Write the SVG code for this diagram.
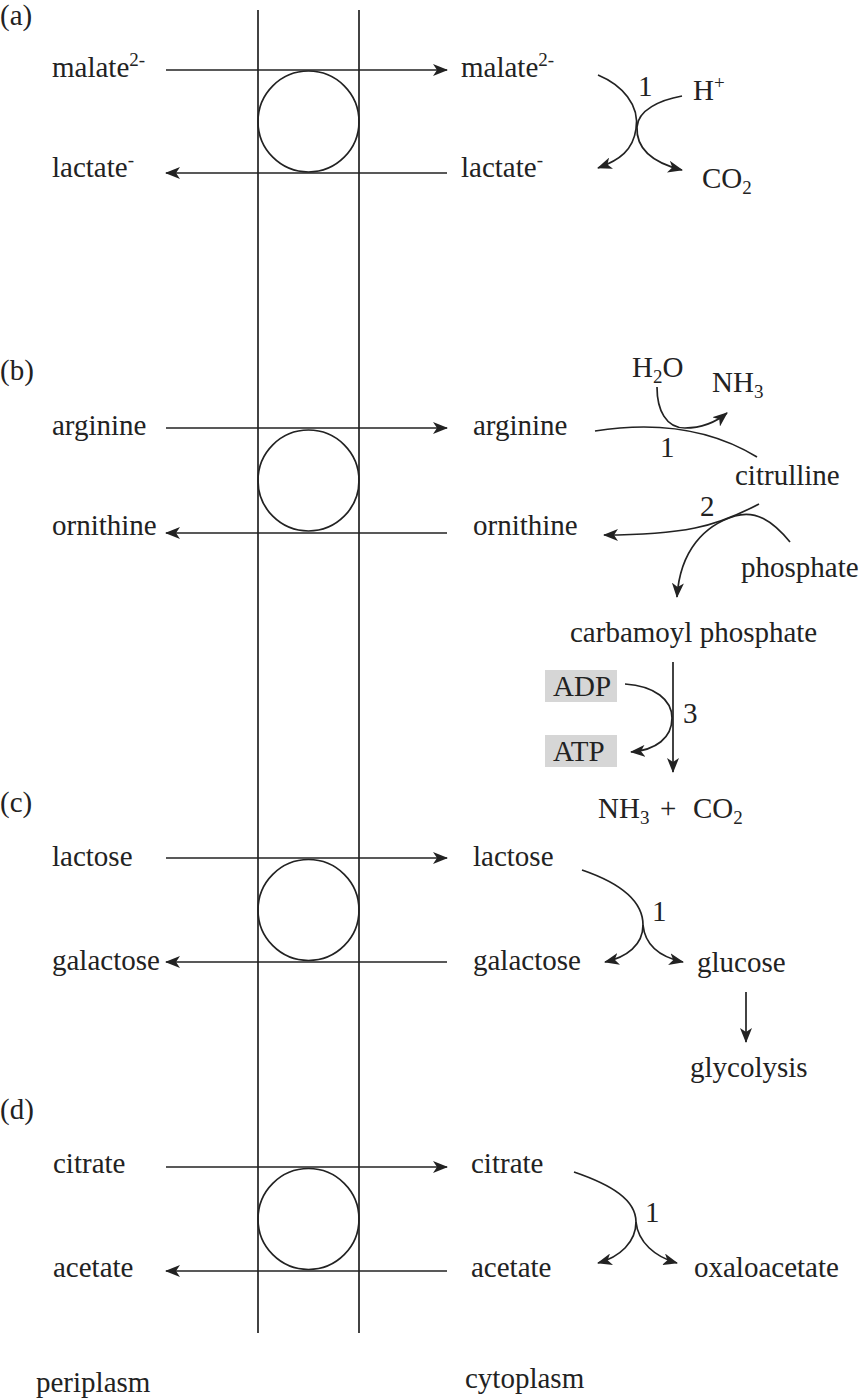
<svg xmlns="http://www.w3.org/2000/svg" width="861" height="1398" viewBox="0 0 861 1398">
<defs>
<style>
text{font-family:"Liberation Serif","Times New Roman",serif;font-size:29px;fill:#222}
.sup{font-size:19px}
.ln{fill:none;stroke:#222;stroke-width:1.7}
.ar{fill:none;stroke:#222;stroke-width:1.7;marker-end:url(#ah)}
.box{fill:#d6d6d6;stroke:none}
</style>
<marker id="ah" markerUnits="userSpaceOnUse" markerWidth="16" markerHeight="12" refX="14" refY="6" orient="auto">
<path d="M0,0 L15,6 L0,12 L4,6 z" fill="#222"/>
</marker>
</defs>
<rect width="861" height="1398" fill="#fff"/>

<g id="membrane">
<line class="ln" x1="258" y1="10" x2="258" y2="1333"/>
<line class="ln" x1="359" y1="10" x2="359" y2="1333"/>
<circle class="ln" cx="308.5" cy="121.5" r="50.5"/>
<circle class="ln" cx="308.5" cy="480.5" r="50.5"/>
<circle class="ln" cx="308.5" cy="910" r="50.5"/>
<circle class="ln" cx="308.5" cy="1219" r="50.5"/>
</g>

<g id="connectors">
<line class="ar" x1="166" y1="70" x2="447" y2="70"/>
<line class="ar" x1="447" y1="173" x2="166" y2="173"/>
<line class="ar" x1="166" y1="428" x2="447" y2="428"/>
<line class="ar" x1="447" y1="533" x2="166" y2="533"/>
<line class="ar" x1="166" y1="858" x2="447" y2="858"/>
<line class="ar" x1="447" y1="962" x2="166" y2="962"/>
<line class="ar" x1="166" y1="1167" x2="447" y2="1167"/>
<line class="ar" x1="447" y1="1271" x2="166" y2="1271"/>
<path class="ar" d="M598,75 C622,85 640,105 636,129 C633,150 620,160 598,168"/>
<path class="ar" d="M682,96 C660,100 638,110 637,127 C636,148 650,162 682,170"/>
<path class="ln" d="M595,431 Q690,416 757,457"/>
<path class="ar" d="M657,387 C657,410 666,428 685,428 C702,428 716,422 727,413"/>
<path class="ar" d="M759,504 C740,514 720,523 695,528 C670,533 640,535 604,535"/>
<path class="ar" d="M790,542 C772,520 755,510 735,516 C705,525 680,550 677,597"/>
<path class="ar" d="M673,662 L673,772"/>
<path class="ar" d="M625,684 C655,686 672,700 672,718 C672,738 656,750 631,752"/>
<path class="ar" d="M582,870 C620,883 643,900 643,925 C643,945 627,957 605,962"/>
<path class="ar" d="M643,925 C645,945 660,957 683,962"/>
<path class="ar" d="M746,992 L746,1042"/>
<path class="ar" d="M574,1172 C612,1185 636,1200 636,1222 C636,1242 620,1257 598,1263"/>
<path class="ar" d="M636,1222 C638,1242 655,1257 677,1263"/>
</g>

<g id="panel-a">
<text x="0" y="25">(a)</text>
<text x="52" y="77">malate<tspan class="sup" dy="-11">2-</tspan></text>
<text x="52" y="177">lactate<tspan class="sup" dy="-11">-</tspan></text>
<text x="461" y="77">malate<tspan class="sup" dy="-11">2-</tspan></text>
<text x="461" y="177">lactate<tspan class="sup" dy="-11">-</tspan></text>
<text x="638" y="96">1</text>
<text x="693" y="100">H<tspan class="sup" dy="-11">+</tspan></text>
<text x="702" y="188">CO<tspan class="sup" dy="6">2</tspan></text>
</g>

<g id="panel-b">
<text x="0" y="380">(b)</text>
<text x="52" y="435">arginine</text>
<text x="52" y="535">ornithine</text>
<text x="473" y="435">arginine</text>
<text x="473" y="535">ornithine</text>
<text x="632" y="377">H<tspan class="sup" dy="6">2</tspan><tspan dy="-6">O</tspan></text>
<text x="712" y="392">NH<tspan class="sup" dy="6">3</tspan></text>
<text x="660" y="457">1</text>
<text x="735" y="485">citrulline</text>
<text x="700" y="516">2</text>
<text x="741" y="577">phosphate</text>
<text x="570" y="642">carbamoyl phosphate</text>
<rect class="box" x="545" y="670" width="72" height="32"/>
<rect class="box" x="545" y="735" width="72" height="32"/>
<text x="553" y="696">ADP</text>
<text x="553" y="761">ATP</text>
<text x="683" y="723">3</text>
<text x="598" y="818">NH<tspan class="sup" dy="6">3</tspan><tspan x="660" dy="-6">+</tspan><tspan x="693">CO</tspan><tspan class="sup" dy="6">2</tspan></text>
</g>

<g id="panel-c">
<text x="0" y="812">(c)</text>
<text x="52" y="866">lactose</text>
<text x="52" y="970">galactose</text>
<text x="473" y="866">lactose</text>
<text x="473" y="970">galactose</text>
<text x="652" y="921">1</text>
<text x="697" y="972">glucose</text>
<text x="690" y="1077">glycolysis</text>
</g>

<g id="panel-d">
<text x="0" y="1119">(d)</text>
<text x="53" y="1173">citrate</text>
<text x="53" y="1277">acetate</text>
<text x="471" y="1173">citrate</text>
<text x="471" y="1277">acetate</text>
<text x="645" y="1222">1</text>
<text x="694" y="1277">oxaloacetate</text>
</g>

<g id="labels">
<text x="36" y="1392">periplasm</text>
<text x="465" y="1388">cytoplasm</text>
</g>
</svg>
